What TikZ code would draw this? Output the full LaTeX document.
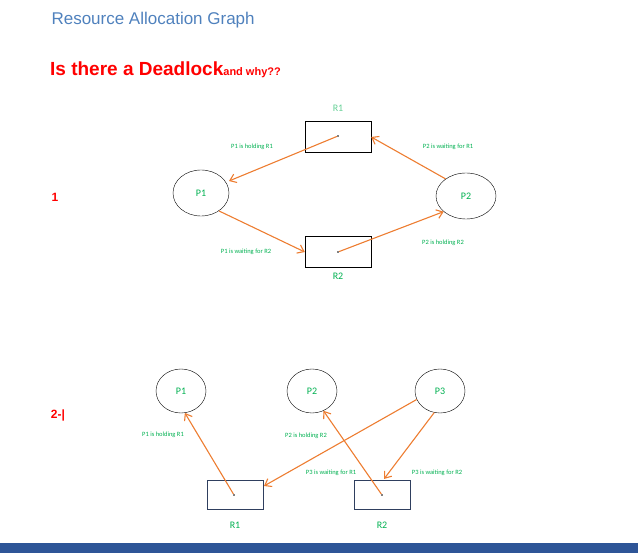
\documentclass[tikz,border=0pt]{standalone}
\usepackage{fontspec}
\usetikzlibrary{shapes.geometric,arrows.meta}
\setmainfont{Liberation Sans}
\newfontfamily\calfont{Carlito}
\definecolor{ttl}{HTML}{4F81BD}
\definecolor{grn}{HTML}{00B050}
\definecolor{org}{HTML}{ED7D31}
\definecolor{bar}{HTML}{2E5597}
\definecolor{bx}{HTML}{2F3F5F}
\begin{document}
\begin{tikzpicture}[x=1pt,y=-1pt,
 proc/.style={draw,ellipse,minimum width=56,minimum height=46,inner sep=0,font=\calfont\fontsize{10}{10}\selectfont,text=grn},
 res/.style={draw,minimum width=66,minimum height=31,inner sep=0},
 lbl/.style={font=\calfont\fontsize{6.5}{7}\selectfont,text=grn},
 rl/.style={font=\calfont\fontsize{10}{10}\selectfont,text=grn},
 arr/.style={draw=org,line width=1.1pt,-{Straight Barb[length=6pt,width=9pt]}},
 dotc/.style={circle,fill=black,inner sep=0.7pt}]
\useasboundingbox (0,0) rectangle (638,553);
\fill[bar] (0,543) rectangle (638,553);
\node[anchor=west,text=ttl,font=\fontsize{17}{17}\selectfont] (t) at (48,20) {Resource Allocation Graph};
\node[anchor=base west,text=red,font=\bfseries\fontsize{19}{19}\selectfont,inner sep=0] (q) at (50,76) {Is there a Deadlock\fontsize{11}{11}\selectfont and why??};
\node[text=red,font=\bfseries\fontsize{12}{12}\selectfont] (n1) at (55,197) {1};
\node[text=red,font=\bfseries\fontsize{12}{12}\selectfont] (n2) at (58,415) {2-|};
% diagram 1
\node[res] (r1) at (338,137) {};
\node[res] (r2) at (338,252) {};
\node[dotc] (d1) at (338,136) {};
\node[dotc] (d2) at (338,252) {};
\node[proc] (p1) at (201,193) {P1};
\node[proc,minimum width=60] (p2) at (466,196) {P2};
\node[rl,text=grn!60] (l1) at (338,108) {R1};
\node[rl] (l2) at (338,276) {R2};
\draw[arr] (d1) -- (229,181);
\draw[arr] (p2.140) -- (r1.east);
\draw[arr] (p1.-45) -- (r2.west);
\draw[arr] (d2) -- (p2.-145);
\node[lbl] at (252,147) {P1 is holding R1};
\node[lbl] at (448,147) {P2 is waiting for R1};
\node[lbl] at (246,252) {P1 is waiting for R2};
\node[lbl] at (443,243) {P2 is holding R2};
% diagram 2
\node[proc,minimum width=50,minimum height=44] (q1) at (181,391) {P1};
\node[proc,minimum width=50,minimum height=44] (q2) at (312,391) {P2};
\node[proc,minimum width=50,minimum height=44] (q3) at (440,391) {P3};
\node[res,draw=bx,minimum width=56,minimum height=29] (s1) at (235,495) {};
\node[res,draw=bx,minimum width=56,minimum height=29] (s2) at (382,495) {};
\node[dotc] (e1) at (234,495) {};
\node[dotc] (e2) at (382,495) {};
\node[rl] at (235,525) {R1};
\node[rl] at (382,525) {R2};
\draw[arr] (e1) -- (q1.-80);
\draw[arr] (e2) -- (q2.-60);
\draw[arr] (q3.-160) -- (264,486);
\draw[arr] (q3.-105) -- (384,479);
\node[lbl] at (163,435) {P1 is holding R1};
\node[lbl] at (306,436) {P2 is holding R2};
\node[lbl] at (331,473) {P3 is waiting for R1};
\node[lbl] at (437,473) {P3 is waiting for R2};
\end{tikzpicture}
\end{document}
